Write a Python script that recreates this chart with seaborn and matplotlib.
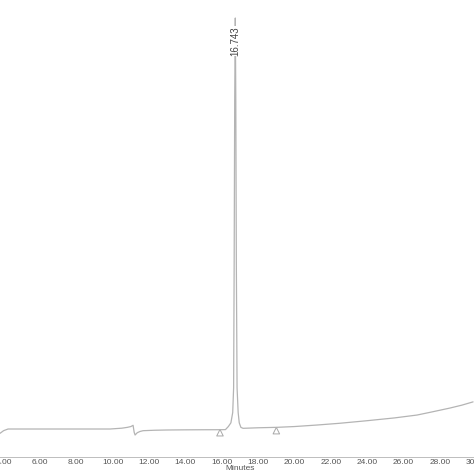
import matplotlib
matplotlib.use("Agg")
import matplotlib.pyplot as plt
import seaborn as sns
import pandas as pd
from matplotlib.ticker import MultipleLocator, FormatStrFormatter

# Chromatogram trace (minutes, AU)
time_min = [3.80, 4.00, 4.24, 5.50, 7.00, 8.50, 9.85, 10.50, 10.80, 11.00, 11.12,
            11.18, 11.23, 11.35, 11.50, 11.67, 12.30, 12.99, 14.00, 15.00, 15.90,
            16.20, 16.36, 16.50, 16.60, 16.65, 16.68, 16.71, 16.743, 16.77, 16.80,
            16.84, 16.90, 16.96, 17.05, 17.17, 18.00, 19.04, 20.00, 21.24, 22.50,
            23.99, 25.50, 26.74, 27.50, 28.55, 29.20, 29.82]
signal_au = [-0.0105, -0.004, 0.000, 0.000, 0.000, 0.000, 0.000, 0.002, 0.004, 0.006, 0.009,
             -0.008, -0.0146, -0.009, -0.006, -0.0041, -0.003, -0.0024, -0.002, -0.0018, -0.0017,
             -0.0015, 0.006, 0.015, 0.040, 0.10, 0.40, 0.80, 1.000, 0.80, 0.40,
             0.10, 0.04, 0.015, 0.004, 0.0017, 0.003, 0.0041, 0.006, 0.0097, 0.014,
             0.0202, 0.027, 0.034, 0.041, 0.051, 0.058, 0.066]

# Integration start/end markers
marker_time = [15.90, 19.00]
marker_au = [-0.009, -0.004]

peak_rt = 16.743
peak_label = "16.743"
x_label = "Minutes"

df = pd.DataFrame({"t": time_min, "v": signal_au})
dm = pd.DataFrame({"t": marker_time, "v": marker_au})

sns.set_style("white")
plt.rcParams["font.family"] = ["Liberation Sans", "DejaVu Sans"]
fig = plt.figure(figsize=(4.74, 4.74), dpi=100)
ppm = 18.18
left_px = 40 - (6 - 3.5) * ppm
width_px = (30.5 - 3.5) * ppm
ax = fig.add_axes([left_px / 474, 17 / 474, width_px / 474, 457 / 474])

trace_color = "#b4b4b4"
sns.lineplot(data=df, x="t", y="v", ax=ax, color=trace_color, linewidth=0.9, sort=False)
sns.scatterplot(data=dm, x="t", y="v", ax=ax, marker="^", s=22,
                facecolor="none", edgecolor="#a8a8a8", linewidth=0.7)

ax.text(peak_rt, 0.944, peak_label, rotation=90, ha="center", va="center",
        fontsize=7, color="#444444",
        bbox=dict(facecolor="white", edgecolor="none", pad=0.3))

ax.set_xlim(3.5, 30.5)
ax.set_ylim(-0.0681, 1.0438)
ax.xaxis.set_major_locator(MultipleLocator(2))
ax.xaxis.set_minor_locator(MultipleLocator(0.5))
ax.xaxis.set_major_formatter(FormatStrFormatter("%.2f"))
ax.set_yticks([])
ax.set_ylabel("")
ax.set_xlabel(x_label, fontsize=6, color="#555555", labelpad=-0.5)
for s in ["left", "top", "right"]:
    ax.spines[s].set_visible(False)
ax.spines["bottom"].set_color("#bdbdbd")
ax.spines["bottom"].set_linewidth(0.7)
ax.tick_params(axis="x", which="major", length=2.5, width=0.6, color="#bdbdbd",
               labelsize=6, labelcolor="#555555", pad=1.5, direction="in")
ax.tick_params(axis="x", which="minor", length=1.5, width=0.5, color="#bdbdbd", direction="in")

fig.savefig("out.png", dpi=100, facecolor="white")
